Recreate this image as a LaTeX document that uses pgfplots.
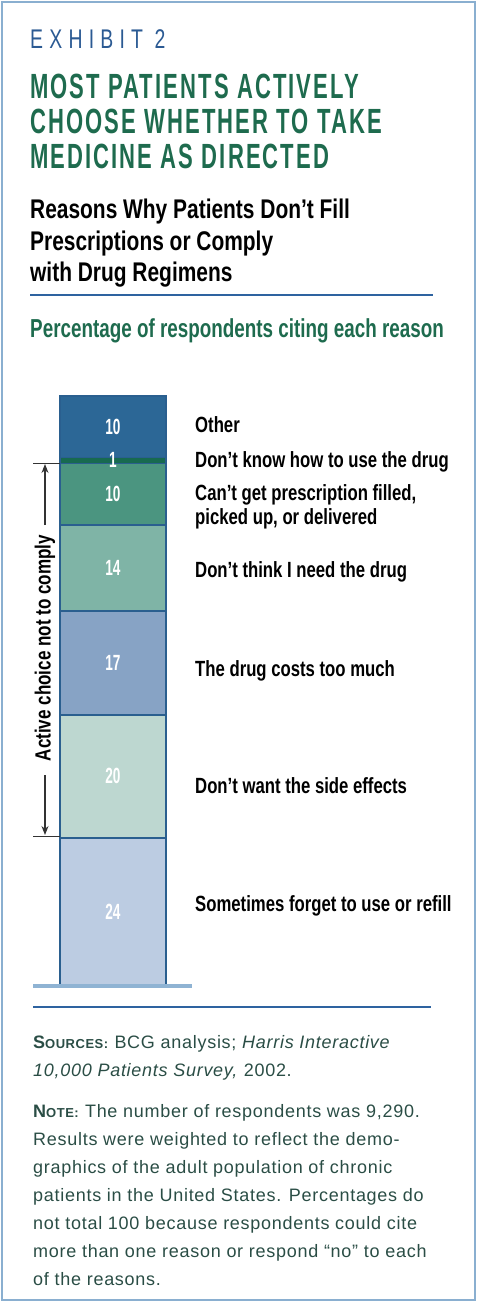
\documentclass[border=0pt]{standalone}
\usepackage{pgfplots}
\pgfplotsset{compat=1.18}
\usetikzlibrary{arrows.meta}
\usepackage{fontspec}
\setmainfont{Liberation Sans}
\newfontfamily\exfont{Liberation Sans}[FakeStretch=0.72, LetterSpace=23]
\newfontfamily\titlefont{Liberation Sans}[FakeStretch=0.63, LetterSpace=6]
\newfontfamily\cond{Liberation Sans}[FakeStretch=0.76]
\newfontfamily\condsub{Liberation Sans}[FakeStretch=0.775]
\newfontfamily\condpct{Liberation Sans}[FakeStretch=0.725]
\newfontfamily\condnum{Liberation Sans}[FakeStretch=0.62]
\newfontfamily\notefont{Liberation Sans}[LetterSpace=4]

\definecolor{frameblue}{HTML}{8AAFD0}
\definecolor{exblue}{HTML}{2B5A93}
\definecolor{titlegreen}{HTML}{1E6B4E}
\definecolor{ruleblue}{HTML}{2E63A0}
\definecolor{barline}{HTML}{2A5F8F}
\definecolor{baseblue}{HTML}{8FB3D3}
\definecolor{notetext}{HTML}{2A4D45}
\definecolor{c24}{HTML}{BCCCE2}
\definecolor{c20}{HTML}{BDD7D0}
\definecolor{c17}{HTML}{87A3C5}
\definecolor{c14}{HTML}{7FB4A6}
\definecolor{c10a}{HTML}{4B9580}
\definecolor{c1}{HTML}{176A50}
\definecolor{c10b}{HTML}{2C6796}

\newcommand{\fs}[1]{\fontsize{#1}{#1}\selectfont}

\begin{document}
\begin{tikzpicture}[x=1pt,y=1pt]
\useasboundingbox (0,0) rectangle (477,-1302);
\draw[frameblue, line width=2.5pt] (2,-2) rectangle (475,-1300);

% headings
\node[anchor=base west, inner sep=0, text=exblue, font=\exfont\fs{27}] at (30,-48) {EXHIBIT 2};
\begin{scope}[every node/.style={anchor=base west, inner sep=0, text=titlegreen, font=\titlefont\bfseries\fs{35}}]
\node at (30,-98) {MOST PATIENTS ACTIVELY};
\node at (30,-133) {CHOOSE WHETHER TO TAKE};
\node at (30,-168) {MEDICINE AS DIRECTED};
\end{scope}
\begin{scope}[every node/.style={anchor=base west, inner sep=0, text=black, font=\condsub\bfseries\fs{27}}]
\node at (30,-218) {Reasons Why Patients Don’t Fill};
\node at (30,-250) {Prescriptions or Comply};
\node at (30,-281) {with Drug Regimens};
\end{scope}
\draw[ruleblue, line width=2pt] (30,-295) -- (433,-295);
\node[anchor=base west, inner sep=0, text=titlegreen, font=\condpct\bfseries\fs{26}] at (30,-337) {Percentage of respondents citing each reason};

\begin{axis}[at={(60pt,-985pt)}, anchor=south west, scale only axis,
  width=106pt, height=589pt, xmin=0.5, xmax=1.5, ymin=0, ymax=96,
  hide axis, clip=false, ybar stacked, bar width=106pt,
  nodes near coords={\condnum\bfseries\fs{22}\pgfmathprintnumber[assume math mode=true]{\pgfplotspointmeta}},
  every node near coord/.append style={anchor=center, text=white}]
\addplot[fill=c24, draw=barline, line width=1.5pt] coordinates {(1,24)};
\addplot[fill=c20, draw=barline, line width=1.5pt] coordinates {(1,20)};
\addplot[fill=c17, draw=barline, line width=1.5pt] coordinates {(1,17)};
\addplot[fill=c14, draw=barline, line width=1.5pt] coordinates {(1,14)};
\addplot[fill=c10a, draw=barline, line width=1.5pt] coordinates {(1,10)};
\addplot[fill=c1, draw=barline, line width=1.5pt] coordinates {(1,1)};
\addplot[fill=c10b, draw=barline, line width=1.5pt] coordinates {(1,10)};
\end{axis}

\draw[baseblue, line width=3.5pt] (33,-986) -- (192,-986);

% category labels
\begin{scope}[every node/.style={anchor=base west, inner sep=0, text=black, font=\cond\bfseries\fs{22}}]
\node at (195,-432) {Other};
\node at (195,-467) {Don’t know how to use the drug};
\node at (195,-500) {Can’t get prescription filled,};
\node at (195,-524) {picked up, or delivered};
\node at (195,-577) {Don’t think I need the drug};
\node at (195,-676) {The drug costs too much};
\node at (195,-793) {Don’t want the side effects};
\node at (195,-911) {Sometimes forget to use or refill};
\end{scope}

% bracket
\draw[black!80, line width=1pt] (33,-463) -- (60,-463);
\draw[black!80, line width=1pt] (33,-836) -- (60,-836);
\draw[black!80, line width=1.2pt, -{Stealth[length=9pt,width=7pt]}] (45,-525) -- (45,-464);
\draw[black!80, line width=1.2pt, -{Stealth[length=9pt,width=7pt]}] (45,-775) -- (45,-835);
\node[rotate=90, inner sep=0, text=black, font=\condsub\bfseries\fs{22}] at (45,-648) {Active choice not to comply};

\draw[ruleblue, line width=2pt] (33,-1007) -- (431,-1007);

% notes
\begin{scope}[every node/.style={anchor=base west, inner sep=0, text=notetext, font=\notefont\fs{18}}]
\node at (33,-1048) {\textbf{S\fs{13}OURCES:} BCG analysis; \textit{Harris Interactive}};
\node at (33,-1076) {\textit{10,000 Patients Survey,} 2002.};
\node at (33,-1117) {\textbf{N\fs{13}OTE:} The number of respondents was 9,290.};
\node at (33,-1145) {Results were weighted to reflect the demo-};
\node at (33,-1173) {graphics of the adult population of chronic};
\node at (33,-1201) {patients in the United States. Percentages do};
\node at (33,-1229) {not total 100 because respondents could cite};
\node at (33,-1257) {more than one reason or respond “no” to each};
\node at (33,-1285) {of the reasons.};
\end{scope}
\end{tikzpicture}
\end{document}
